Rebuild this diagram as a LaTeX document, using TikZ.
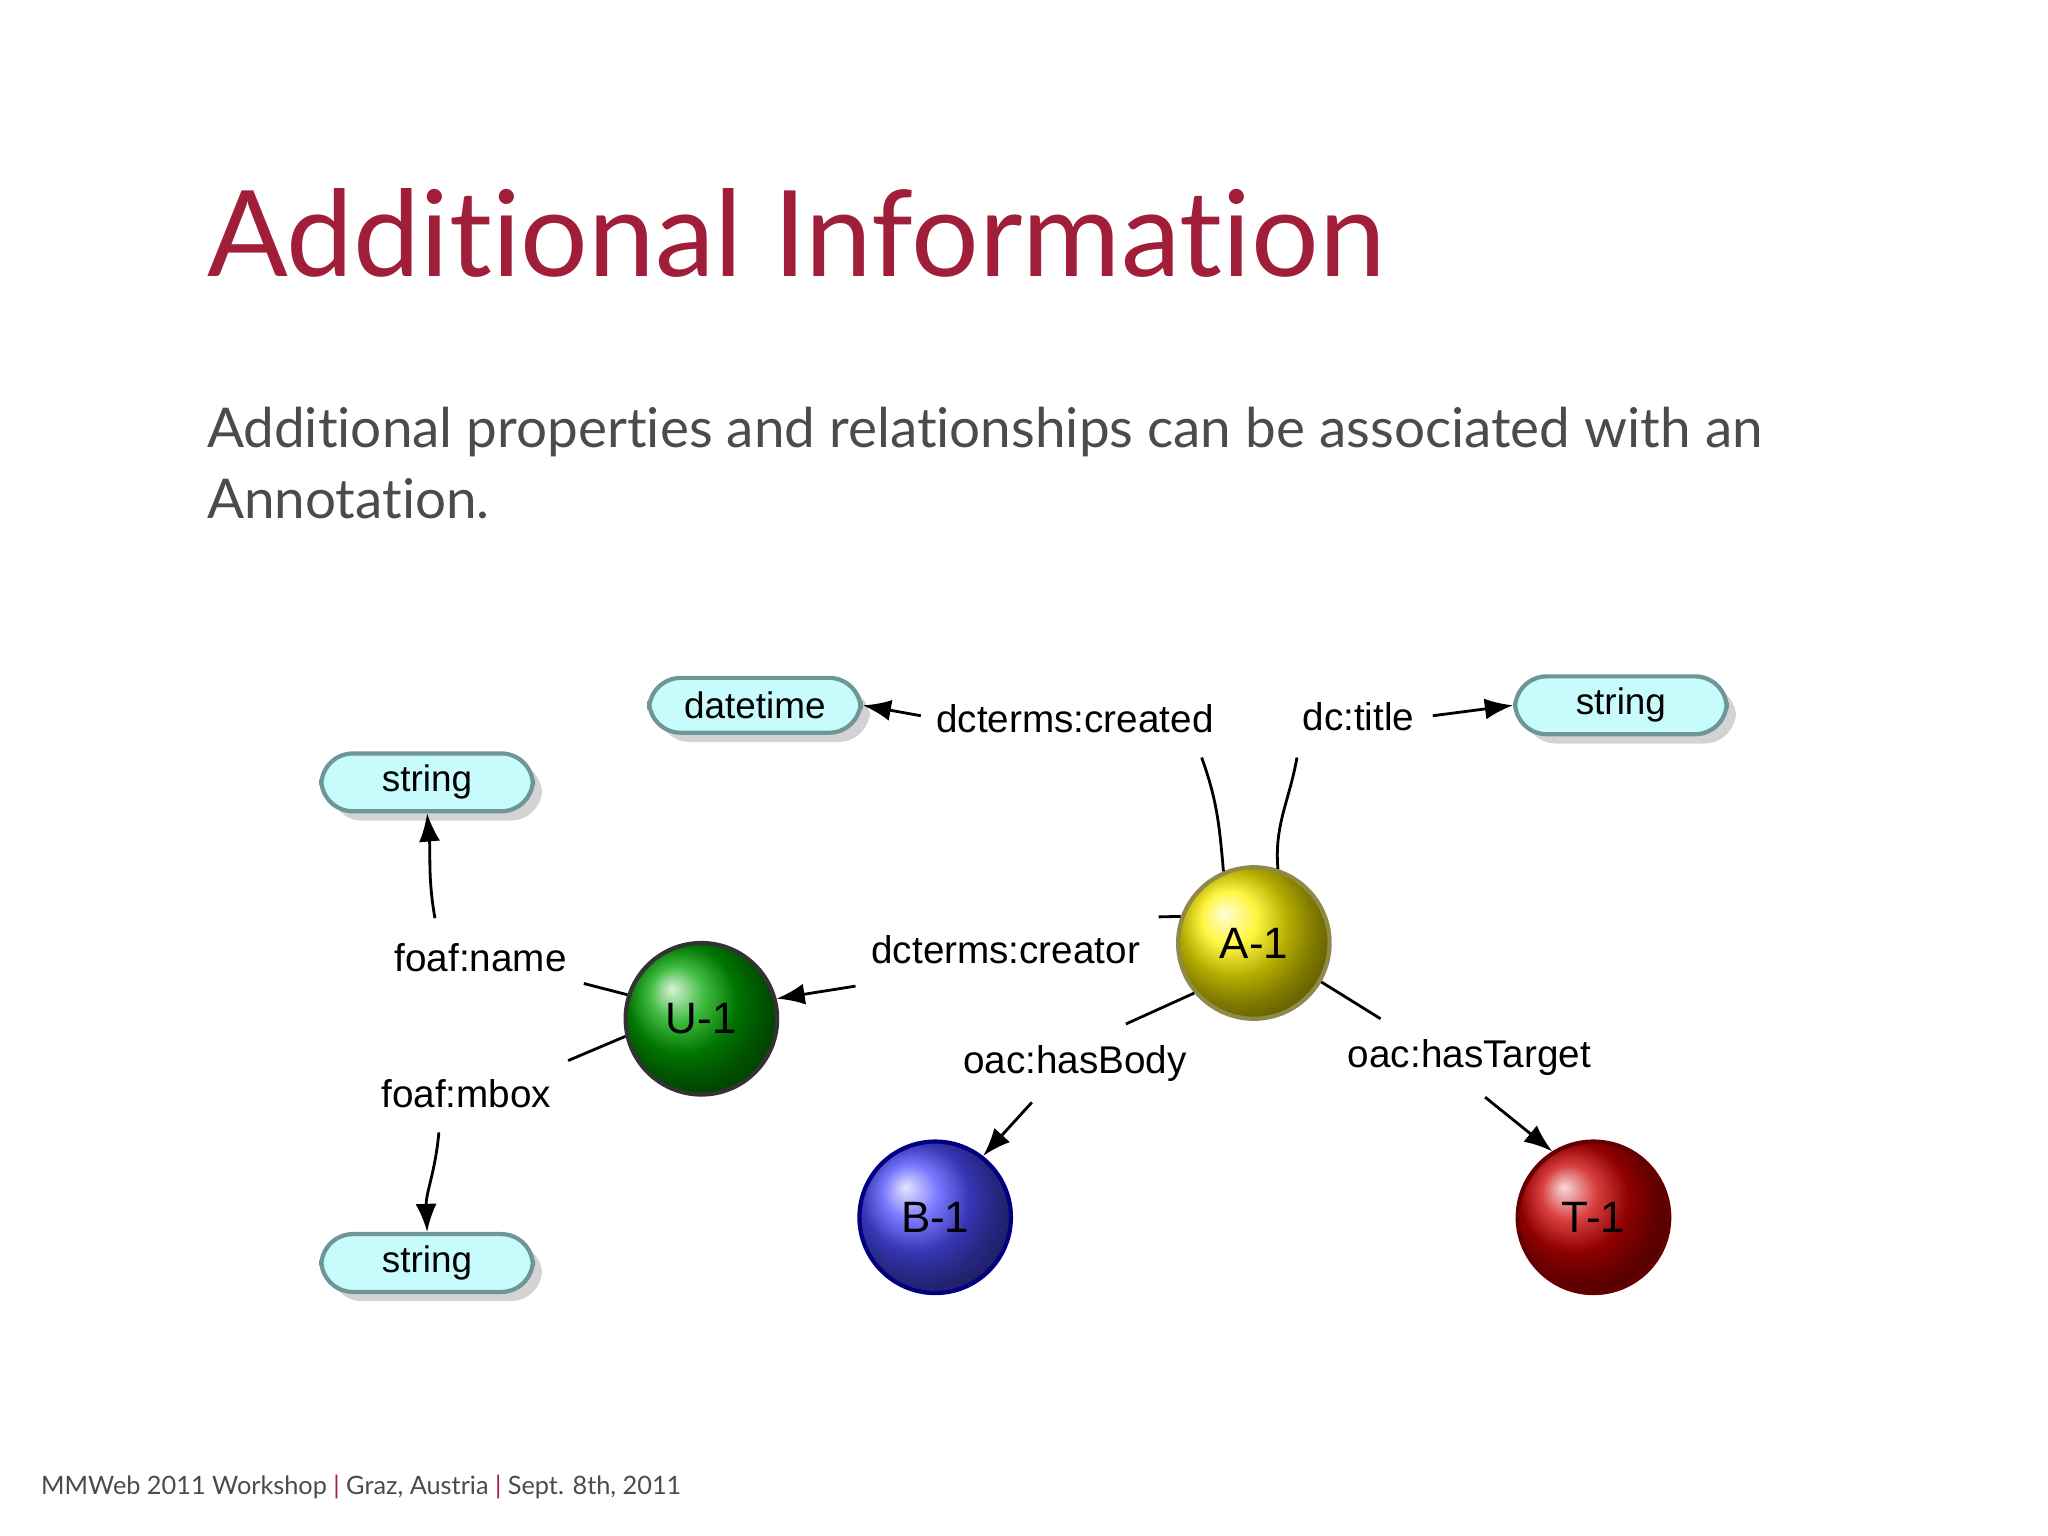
\documentclass[tikz,border=0pt]{standalone}
\usepackage{fontspec}
\setmainfont{Liberation Sans}
\newfontfamily\slidefont[Ligatures={NoCommon,NoRequired,NoContextual}]{Lato}
\usetikzlibrary{shadows,arrows.meta}
\definecolor{titleColor}{RGB}{160,30,55}
\definecolor{textColor}{RGB}{75,75,75}
\definecolor{pillColor}{RGB}{200,252,252}
\definecolor{pillBorder}{RGB}{110,150,150}

\tikzset{
  pill/.style={draw=pillBorder, line width=1.2pt, fill=pillColor, rounded corners=9pt,
    minimum width=162*0.013061cm, minimum height=42*0.013061cm,
    font=\fontsize{10.5}{13}\selectfont, drop shadow={opacity=0.35}},
  res/.style={circle, draw=black!80, line width=1.2pt, minimum size=116*0.013061cm,
    font=\fontsize{12.5}{15}\selectfont, inner sep=0pt},
  prop/.style={font=\fontsize{11}{14}\selectfont, inner sep=2pt},
  link/.style={line width=0.8pt},
  arr/.style={line width=0.8pt, -{Latex[length=8pt,width=6pt]}}
}

\begin{document}
\begin{tikzpicture}[x=0.013061cm, y=-0.013061cm]
  \useasboundingbox (0,0) rectangle (1568,1176);
  % Title and text
  \node[anchor=base west, text=titleColor, font=\slidefont\fontsize{34}{40}\selectfont, inner sep=0pt]
    (title) at (158,212) {Additional Information};
  \node[anchor=base west, text=textColor, font=\slidefont\fontsize{15.6}{20}\selectfont, inner sep=0pt]
    (line1) at (158,343) {Additional properties and relationships can be associated with an};
  \node[anchor=base west, text=textColor, font=\slidefont\fontsize{15.6}{20}\selectfont, inner sep=0pt]
    (line2) at (158,397) {Annotation.};
  \node[anchor=base west, text=textColor, font=\slidefont\fontsize{7.2}{9}\selectfont, inner sep=0pt]
    (footer) at (31,1144) {MMWeb 2011 Workshop {\color{titleColor}|} Graz, Austria {\color{titleColor}|} Sept. 8th, 2011};
  % Resources
  \node[res, ball color=yellow!90!orange, draw=yellow!50!black] (A) at (960,722) {A-1};
  \node[res, ball color=green!65!black] (U) at (537,780) {U-1};
  \node[res, ball color=blue!70!white, draw=blue!50!black] (B) at (716,932) {B-1};
  \node[res, ball color=red!80!black, draw=red!40!black] (T) at (1220,932) {T-1};
  % Literals
  \node[pill] (date) at (578,540) {datetime};
  \node[pill] (title-str) at (1241,540) {string};
  \node[pill] (name-str) at (327,599) {string};
  \node[pill] (mbox-str) at (327,967) {string};
  % Properties
  \node[prop] (created) at (823,550) {dcterms:created};
  \node[prop] (dctitle) at (1040,549) {dc:title};
  \node[prop] (creator) at (770,727) {dcterms:creator};
  \node[prop] (name) at (368,733) {foaf:name};
  \node[prop] (mbox) at (357,837) {foaf:mbox};
  \node[prop] (body) at (823,814) {oac:hasBody};
  \node[prop] (target) at (1125,810) {oac:hasTarget};
  % Connector ends
  \coordinate (created-in) at (920,580);
  \coordinate (created-out) at (705,548);
  \coordinate (title-in) at (993,580);
  \coordinate (title-out) at (1097,548);
  \coordinate (creator-in) at (887,702);
  \coordinate (creator-out) at (655,755);
  \coordinate (name-in) at (447,753);
  \coordinate (name-out) at (333,703);
  \coordinate (mbox-in) at (435,812);
  \coordinate (mbox-out) at (336,867);
  \coordinate (body-in) at (862,784);
  \coordinate (body-out) at (790,844);
  \coordinate (target-in) at (1057,780);
  \coordinate (target-out) at (1137,840);
  % Connectors
  \draw[link] (A.113) to[out=95,in=-70] (created-in);
  \draw[link] (A.72) to[out=95,in=-100] (title-in);
  \draw[arr] (created-out) -- (date.east);
  \draw[arr] (title-out) -- (title-str.west);
  \draw[link] (A.160) -- (creator-in);
  \draw[arr] (creator-out) -- (U.15);
  \draw[link] (U.162) -- (name-in);
  \draw[arr] (name-out) to[out=100,in=-85] (name-str.south);
  \draw[link] (U.193) -- (mbox-in);
  \draw[arr] (mbox-out) to[out=-95,in=92] (mbox-str.north);
  \draw[link] (A.220) -- (body-in);
  \draw[arr] (body-out) -- (B.52);
  \draw[link] (A.-30) -- (target-in);
  \draw[arr] (target-out) -- (T.122);
\end{tikzpicture}
\end{document}
